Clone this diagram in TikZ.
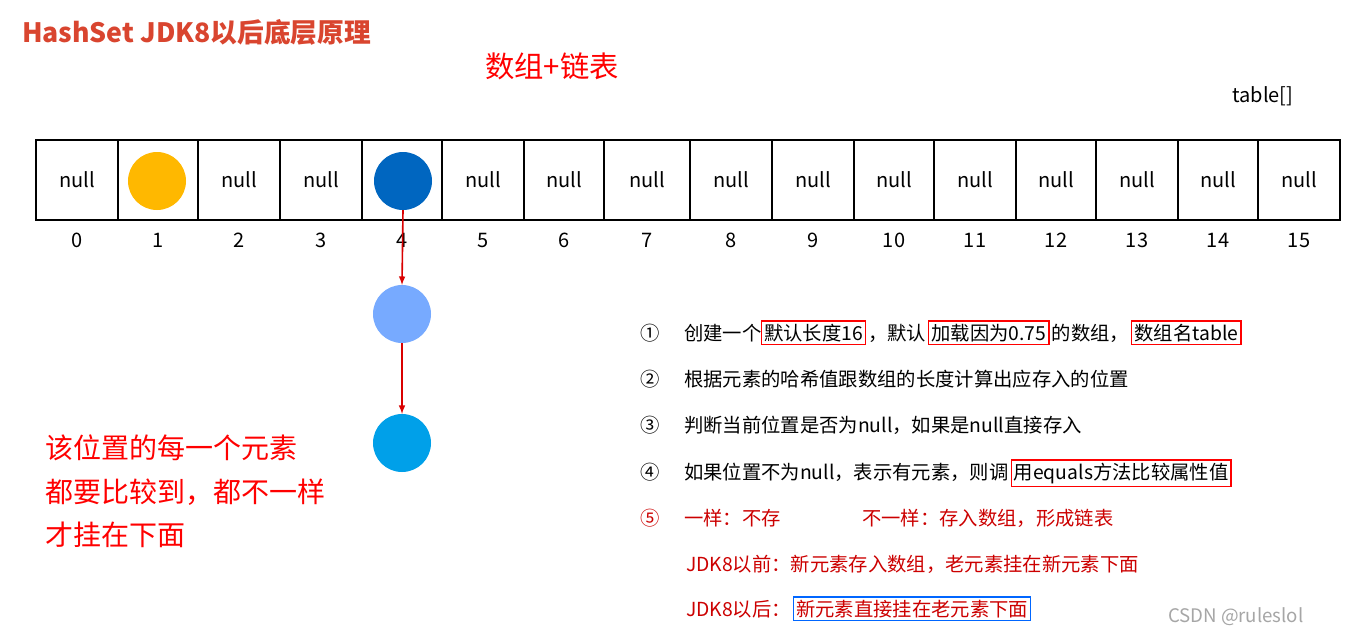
\documentclass[tikz,border=0pt]{standalone}
\usepackage{fontspec}
\setmainfont{Noto Sans CJK SC}
\begin{document}
\begin{tikzpicture}[x=0.75pt,y=-0.75pt,
  every node/.style={inner sep=0pt,outer sep=0pt},
  cell/.style={font=\fontsize{15}{18}\selectfont},
  idx/.style={font=\fontsize{15}{18}\selectfont},
  li/.style={font=\fontsize{14.5}{17}\selectfont,anchor=base west},
  rbox/.style={li,draw=red,line width=0.9pt,inner sep=2pt},
  bbox/.style={li,draw=blue!60!cyan,line width=0.9pt,inner sep=2pt},
  arr/.style={red!85!black,line width=1.2pt,-latex}]
\useasboundingbox (0,0) rectangle (1348,640);
\fill[white] (0,0) rectangle (1348,640);
\definecolor{ttl}{HTML}{D9452F}
\node[anchor=west,text=ttl,font=\fontsize{20}{24}\selectfont\bfseries] (title) at (22,32) {HashSet JDK8以后底层原理};
\node[text=red,font=\fontsize{22}{26}\selectfont] (ds) at (552,66) {数组+链表};
\node[font=\fontsize{15}{18}\selectfont] (tbl) at (1263,96) {table[]};
% array
\def\xs{36,118,198,280,362,442,524,604,690,772,854,934,1016,1096,1178,1258,1340}
\draw[line width=1.8pt] (36,140) rectangle (1340,220);
\foreach \x in {118,198,280,362,442,524,604,690,772,854,934,1016,1096,1178,1258}
  \draw[line width=1.5pt] (\x,140) -- (\x,220);
\foreach \a/\b/\i in {36/118/0,118/198/1,198/280/2,280/362/3,362/442/4,442/524/5,524/604/6,604/690/7,690/772/8,772/854/9,854/934/10,934/1016/11,1016/1096/12,1096/1178/13,1178/1258/14,1258/1340/15}{
  \node[idx] (i\i) at ({(\a+\b)/2},240) {\i};
}
\foreach \a/\b/\i in {36/118/0,198/280/2,280/362/3,442/524/5,524/604/6,604/690/7,690/772/8,772/854/9,854/934/10,934/1016/11,1016/1096/12,1096/1178/13,1178/1258/14,1258/1340/15}{
  \node[cell] (c\i) at ({(\a+\b)/2},180) {null};
}
\fill[color={rgb,255:red,255;green,184;blue,0}] (157,181) circle (29);
\node[circle,minimum size=58*0.75pt,fill={rgb,255:red,0;green,102;blue,192}] (n4) at (403,181) {};
\node[circle,minimum size=58*0.75pt,fill={rgb,255:red,119;green,170;blue,255}] (m1) at (402,314) {};
\node[circle,minimum size=58*0.75pt,fill={rgb,255:red,0;green,160;blue,233}] (m2) at (402,443) {};
\draw[arr] (n4.south) -- (m1.north);
\draw[arr] (m1.south) -- (m2.north);
% left text
\foreach \t/\y [count=\k] in {该位置的每一个元素/448,都要比较到，都不一样/492,才挂在下面/535}
  \node[anchor=west,text=red,font=\fontsize{21}{25}\selectfont] (l\k) at (45,\y) {\t};
% right list
\node[li] (n1) at (640,340) {①};
\node[li] (a1) at (684,340) {创建一个};
\node[rbox,anchor=base west] (a2) at (a1.base east) {默认长度16};
\node[li] (a3) at ([xshift=2pt]a2.base east) {，默认};
\node[rbox] (a4) at ([xshift=2pt]a3.base east) {加载因为0.75};
\node[li] (a5) at ([xshift=2pt]a4.base east) {的数组，};
\node[rbox] (a6) at ([xshift=2pt]a5.base east) {数组名table};
\node[li] (n2) at (640,386) {②};
\node[li] (b1) at (684,386) {根据元素的哈希值跟数组的长度计算出应存入的位置};
\node[li] (n3) at (640,432) {③};
\node[li] (c1) at (684,432) {判断当前位置是否为null，如果是null直接存入};
\node[li] (n4t) at (640,479) {④};
\node[li] (d1) at (684,479) {如果位置不为null，表示有元素，则调};
\node[rbox] (d2) at ([xshift=2pt]d1.base east) {用equals方法比较属性值};
\node[li,text=red!80!black] (n5) at (640,525) {⑤};
\node[li,text=red!80!black] (e1) at (684,525) {一样：不存};
\node[li,text=red!80!black] (e2) at (862,525) {不一样：存入数组，形成链表};
\node[li,text=red!80!black] (f1) at (686,571) {JDK8以前：新元素存入数组，老元素挂在新元素下面};
\node[li,text=red!80!black] (g1) at (686,616) {JDK8以后：};
\node[bbox,text=red!80!black] (g2) at ([xshift=2pt]g1.base east) {新元素直接挂在老元素下面};
\node[anchor=west,text=gray!70,font=\fontsize{14}{17}\selectfont] (wm) at (1168,617) {CSDN @ruleslol};
\end{tikzpicture}
\end{document}
